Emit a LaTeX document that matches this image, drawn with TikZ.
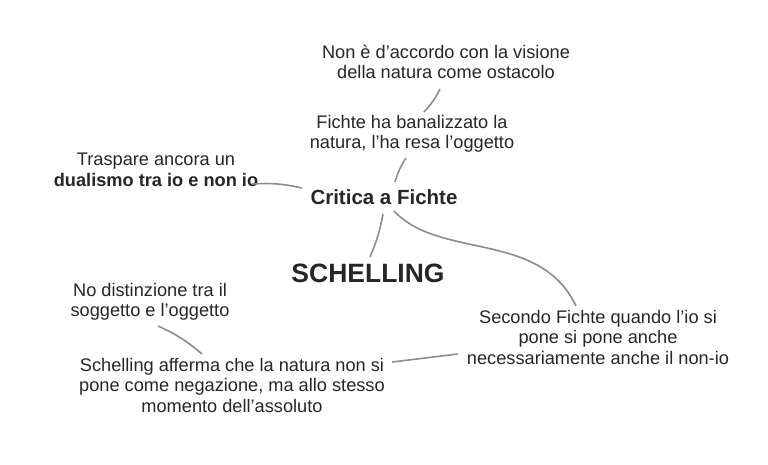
\documentclass[tikz,border=0pt]{standalone}
\usepackage{fontspec}
\setmainfont{Liberation Sans}[Ligatures=ResetAll]
\begin{document}
\begin{tikzpicture}[x=1pt,y=-1pt,
  t/.style={align=center,font=\fontsize{18.2}{20.5}\selectfont,text=black!85,inner sep=2pt},
  ln/.style={draw=black!45,line width=1.6pt}]
\useasboundingbox (0,0) rectangle (768,464);
\node[t] (A) at (446,62) {Non è d'accordo con la visione\\della natura come ostacolo};
\node[t] (B) at (412,134) {Fichte ha banalizzato la\\natura, l'ha resa l'oggetto};
\node[t,font=\fontsize{20.5}{22}\selectfont\bfseries] (C) at (384,197) {Critica a Fichte};
\node[t,font=\fontsize{26.5}{30}\selectfont\bfseries] (D) at (368,273) {SCHELLING};
\node[t] (E) at (156,170) {Traspare ancora un\\\textbf{dualismo tra io e non io}};
\node[t] (F) at (598,337) {Secondo Fichte quando l'io si\\pone si pone anche\\necessariamente anche il non-io};
\node[t] (G) at (232,385) {Schelling afferma che la natura non si\\pone come negazione, ma allo stesso\\momento dell'assoluto};
\node[t] (H) at (150,302) {No distinzione tra il\\soggetto e l'oggetto};
\coordinate (a1) at (440,89); \coordinate (b1) at (424,112);
\draw[ln] (a1) to[bend left=8] (b1);
\coordinate (b2) at (406,158); \coordinate (c1) at (395,182);
\draw[ln] (b2) to[bend right=8] (c1);
\coordinate (c2) at (383,214); \coordinate (d1) at (370,257);
\draw[ln] (c2) to[bend left=6] (d1);
\coordinate (e1) at (252,184); \coordinate (c3) at (302,188);
\draw[ln] (e1) to[bend left=8] (c3);
\coordinate (c4) at (394,211); \coordinate (f1) at (576,306);
\draw[ln] (c4) .. controls (440,260) and (540,230) .. (f1);
\coordinate (g1) at (392,362); \coordinate (f2) at (458,354);
\draw[ln] (g1) -- (f2);
\coordinate (h1) at (158,326); \coordinate (g2) at (202,354);
\draw[ln] (h1) to[bend left=8] (g2);
\end{tikzpicture}
\end{document}
